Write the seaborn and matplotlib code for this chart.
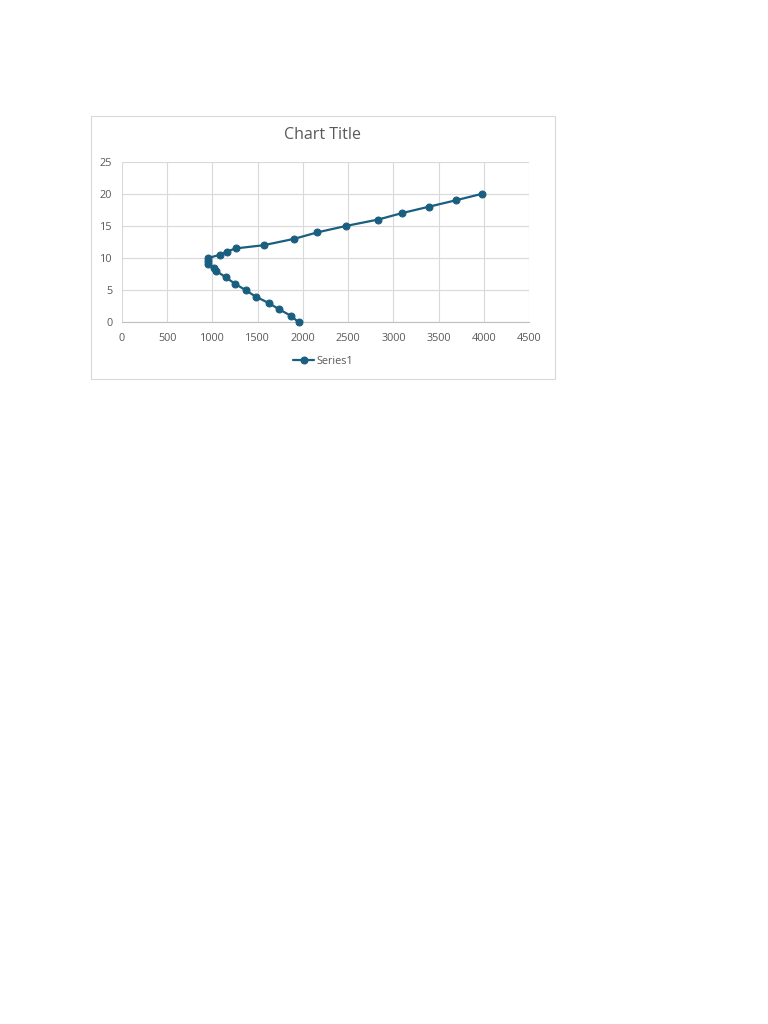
import numpy as np
import pandas as pd
import matplotlib.pyplot as plt
import matplotlib.patches as patches
import seaborn as sns

# Values (x, y in drawing order).
x_vals = [1953, 1869, 1740, 1622, 1478, 1367, 1250, 1146, 1043, 1021,
          951, 951, 951, 1080, 1157, 1257, 1566, 1906, 2160, 2477,
          2834, 3096, 3395, 3693, 3981]
y_vals = [0, 1, 2, 3, 4, 5, 6, 7, 8, 8.5,
          9, 9.5, 10, 10.5, 11, 11.5, 12, 13, 14, 15,
          16, 17, 18, 19, 20]
x_ticks = [0, 500, 1000, 1500, 2000, 2500, 3000, 3500, 4000, 4500]
y_ticks = [0, 5, 10, 15, 20, 25]

sns.set_theme(style="white")
plt.rcParams['font.family'] = ['Open Sans', 'DejaVu Sans']

df = pd.DataFrame({"x": x_vals, "y": y_vals, "series": "Series1"})

fig = plt.figure(figsize=(7.68, 10.24), dpi=100)
fig.patch.set_facecolor("white")

# Chart border like the spreadsheet chart area
fig.patches.append(patches.Rectangle((91 / 768, 1 - 379 / 1024), 464 / 768, 263 / 1024,
                                     transform=fig.transFigure, fill=False,
                                     edgecolor="#d9d9d9", linewidth=0.8))

ax = fig.add_axes([122 / 768, 1 - 322.3 / 1024, 407 / 768, 160.6 / 1024])
line_color = "#1a5e80"
sns.lineplot(data=df, x="x", y="y", sort=False, estimator=None, marker="o",
             color=line_color, markersize=5, markeredgecolor=line_color,
             linewidth=1.6, ax=ax, label="Series1", legend=False)
for ln in ax.lines:
    ln.set_clip_on(False)
    ln.set_zorder(3)

ax.set_xlim(0, 4500)
ax.set_ylim(0, 25)
ax.set_xticks(x_ticks)
ax.set_yticks(y_ticks)
ax.grid(True, color="#d9d9d9", linewidth=0.8)
ax.set_axisbelow(True)
for s in ["top", "right", "left"]:
    ax.spines[s].set_visible(False)
ax.spines["bottom"].set_color("#bfbfbf")
ax.spines["bottom"].set_linewidth(0.8)
ax.tick_params(axis="both", length=0, labelsize=7.8, labelcolor="#595959")
ax.tick_params(axis="x", pad=8)
ax.tick_params(axis="y", pad=7)
ax.set_xlabel("")
ax.set_ylabel("")

fig.text(323 / 768, 1 - 135 / 1024, "Chart Title", ha="center", va="center",
         fontsize=11.5, color="#595959")

handles, labels = ax.get_legend_handles_labels()
fig.legend(handles, labels, loc="center", bbox_to_anchor=(323 / 768, 1 - 361 / 1024),
           frameon=False, fontsize=7.8, labelcolor="#595959", handlelength=2.0,
           handletextpad=0.2)

plt.savefig("out.png", dpi=100)
